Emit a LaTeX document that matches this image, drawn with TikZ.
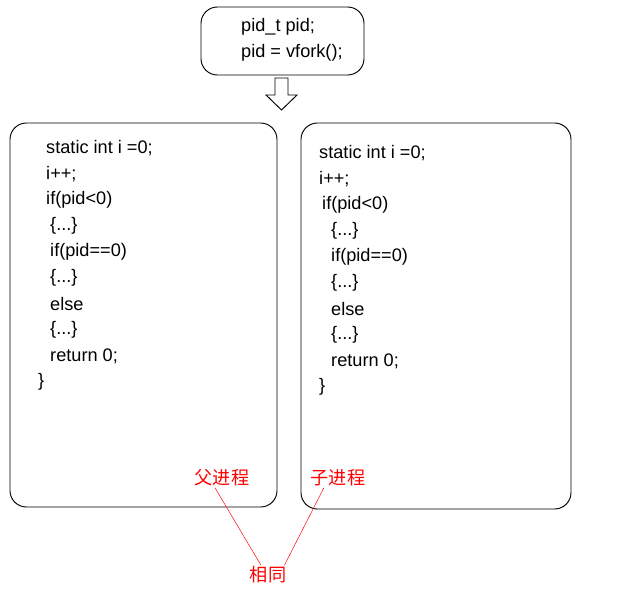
\documentclass[tikz,border=0pt]{standalone}
\usepackage{fontspec}
\setmainfont{Liberation Sans}
\newfontfamily\cjk{Noto Sans CJK SC}
\usetikzlibrary{positioning}
\tikzset{
  codebox/.style={draw, thick, rounded corners=14},
  codeline/.style={anchor=west, inner sep=0pt, font=\fontsize{15.5}{17}\selectfont},
  marklabel/.style={text=red, inner sep=1pt, font=\cjk\fontsize{15.5}{17}\selectfont},
  markline/.style={red, thin}
}
\begin{document}
\begin{tikzpicture}[x=0.03cm, y=-0.03cm]
\useasboundingbox (0,0) rectangle (623,590);
% top box
\draw[codebox] (201,7) rectangle (364,75);
\node[codeline] (t1) at (241,27) {pid\_t pid;};
\node[codeline] (t2) at (241,53) {pid = vfork();};
% hollow arrow
\draw[thick, fill=white] (275,78) -- (288,78) -- (288,95) -- (297,95) -- (281.5,110)
  -- (266,95) -- (275,95) -- cycle;
% left box
\draw[codebox] (10,123) rectangle (277,507);
\node[codeline] (l1) at (46,148) {static int i =0;};
\node[codeline] (l2) at (46,174) {i++;};
\node[codeline] (l3) at (46,200) {if(pid<0)};
\node[codeline] (l4) at (50,226) {\{...\}};
\node[codeline] (l5) at (50,252) {if(pid==0)};
\node[codeline] (l6) at (50,278) {\{...\}};
\node[codeline] (l7) at (50,304) {else};
\node[codeline] (l8) at (50,330) {\{...\}};
\node[codeline] (l9) at (50,356) {return 0;};
\node[codeline] (l10) at (38,382) {\}};
% right box
\draw[codebox] (301,123) rectangle (571,509);
\node[codeline] (r1) at (319,153) {static int i =0;};
\node[codeline] (r2) at (319,179) {i++;};
\node[codeline] (r3) at (322,205) {if(pid<0)};
\node[codeline] (r4) at (331,231) {\{...\}};
\node[codeline] (r5) at (331,257) {if(pid==0)};
\node[codeline] (r6) at (331,283) {\{...\}};
\node[codeline] (r7) at (331,309) {else};
\node[codeline] (r8) at (331,335) {\{...\}};
\node[codeline] (r9) at (331,361) {return 0;};
\node[codeline] (r10) at (319,387) {\}};
% labels
\node[marklabel] (parent) at (222,478) {父进程};
\node[marklabel] (child) at (338,478) {子进程};
\node[marklabel] (same) at (268,575) {相同};
\draw[markline] ([xshift=-6]parent.south) -- ([xshift=-6]same.north);
\draw[markline] ([xshift=-12]child.south) -- ([xshift=14]same.north);
\end{tikzpicture}
\end{document}
